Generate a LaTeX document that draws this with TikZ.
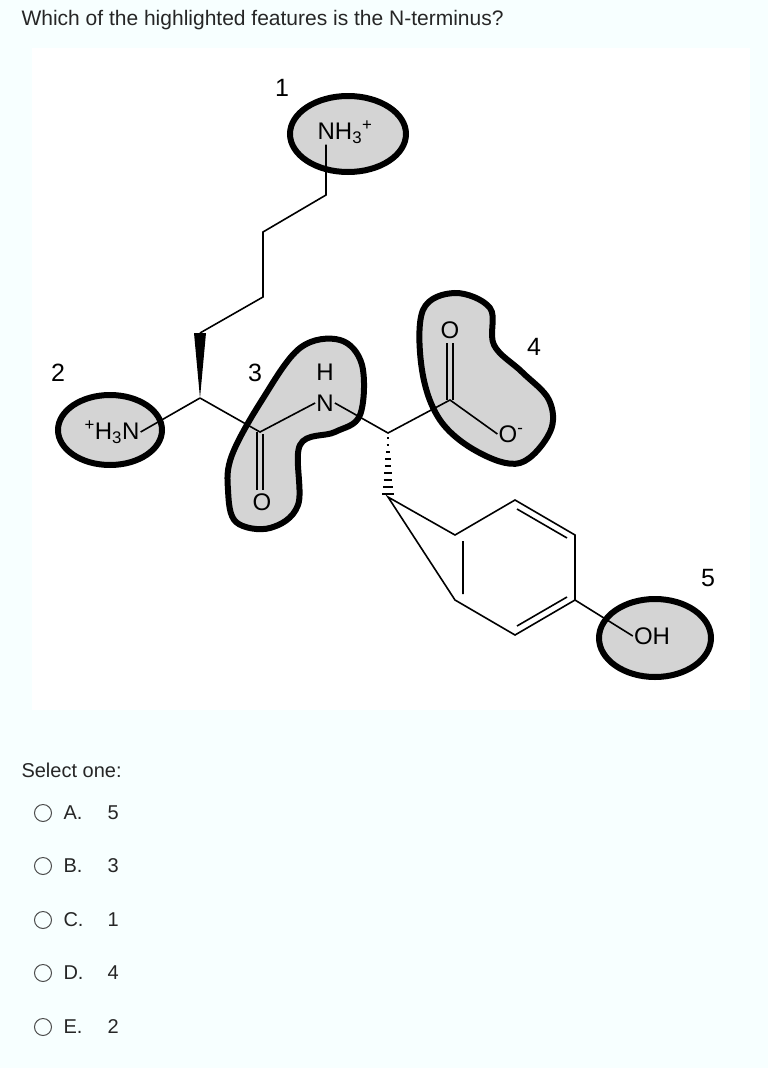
\documentclass[tikz,border=0pt]{standalone}
\usepackage{fontspec}
\setmainfont{Liberation Sans}
\begin{document}
\begin{tikzpicture}[x=1pt,y=-1pt,
  bond/.style={line width=1.6pt},
  blob/.style={fill=black!17,draw=black,line width=6pt},
  atom/.style={inner sep=1pt,font=\fontsize{24}{26}\selectfont},
  lab/.style={font=\fontsize{25}{27}\selectfont},
  opt/.style={anchor=west,font=\fontsize{20}{24}\selectfont,text=black!85},
  radio/.style={circle,draw=black!70,line width=1pt,minimum size=17pt,inner sep=0pt}]
\useasboundingbox (0,0) rectangle (768,1068);
\fill[blue!4!cyan!3] (0,0) rectangle (768,1068);
\fill[white] (32,48) rectangle (750,710);
\node[anchor=west,font=\fontsize{21}{25}\selectfont,text=black!85] (title) at (18,20) {Which of the highlighted features is the N-terminus?};
% blobs
\draw[blob] (348,134) ellipse [x radius=58,y radius=38];
\draw[blob] (110,430) ellipse [x radius=52,y radius=35];
\draw[blob] (655,638) ellipse [x radius=56,y radius=39];
\draw[blob] plot[smooth cycle,tension=0.6] coordinates {(232,455) (262,400) (300,348) (340,340) (362,365) (360,415) (335,432) (300,445) (298,505) (270,528) (236,522) (228,490)};
\draw[blob] plot[smooth cycle,tension=0.6] coordinates {(423,310) (455,293) (490,308) (494,345) (522,372) (549,400) (550,432) (520,463) (478,452) (440,420) (422,370)};
% atoms
\node[atom] (nh3) at (345,132) {NH\textsubscript{3}\textsuperscript{+}};
\node[atom] (h3n) at (112,432) {\textsuperscript{+}H\textsubscript{3}N};
\node[atom] (oh) at (652,636) {OH};
\node[atom] (n) at (325,403) {N};
\node[atom] (h) at (325,372) {H};
\node[atom] (o1) at (262,502) {O};
\node[atom] (o2) at (450,330) {O};
\node[atom] (o3) at (511,434) {O\textsuperscript{-}};
% skeleton coordinates
\coordinate (a) at (326,195);
\coordinate (b) at (263,232);
\coordinate (c) at (263,297);
\coordinate (d) at (200,333);
\coordinate (ca1) at (200,398);
\coordinate (c1) at (260,432);
\coordinate (ca2) at (388,433);
\coordinate (c2) at (450,400);
\coordinate (hb) at (388,497);
\coordinate (r1) at (455,535);
\coordinate (r2) at (515,500);
\coordinate (r3) at (575,535);
\coordinate (r4) at (575,600);
\coordinate (r5) at (515,635);
\coordinate (r6) at (455,600);
\draw[bond] (nh3.south -| a) -- (a) -- (b) -- (c) -- (d);
\fill (ca1) -- (194,333) -- (206,333) -- cycle;
\draw[bond] (ca1) -- (h3n.east);
\draw[bond] (ca1) -- (c1) -- (n.west);
\draw[bond] (257,432) -- (257,490) (263,434) -- (263,490);
\draw[bond] (n.east) -- (ca2) -- (c2) -- (o3.west);
\draw[bond] (447,400) -- (447,343) (453,400) -- (453,343);
\foreach \i in {0,...,8} \draw[line width=1.3pt] ({388-0.8-\i*0.6},{438+\i*7}) -- ({388+0.8+\i*0.6},{438+\i*7});
\draw[bond] (hb) -- (r1) -- (r2) -- (r3) -- (r4) -- (r5) -- (r6) -- cycle;
\draw[bond] (463,541) -- (463,594) (517,509) -- (567,538) (517,626) -- (567,597);
\draw[bond] (r4) -- (oh.west);
% labels
\node[lab] (l1) at (282,88) {1};
\node[lab] (l2) at (58,373) {2};
\node[lab] (l3) at (255,373) {3};
\node[lab] (l4) at (534,347) {4};
\node[lab] (l5) at (708,578) {5};
% options
\node[opt] (sel) at (18,770) {Select one:};
\foreach \y/\l/\v in {813/A/5,866/B/3,920/C/1,973/D/4,1027/E/2}{
  \node[radio] (r\l) at (43,\y) {};
  \node[opt] (t\l) at (60,\y) {\l.};
  \node[opt] (v\l) at (104,\y) {\v};
}
\end{tikzpicture}
\end{document}
